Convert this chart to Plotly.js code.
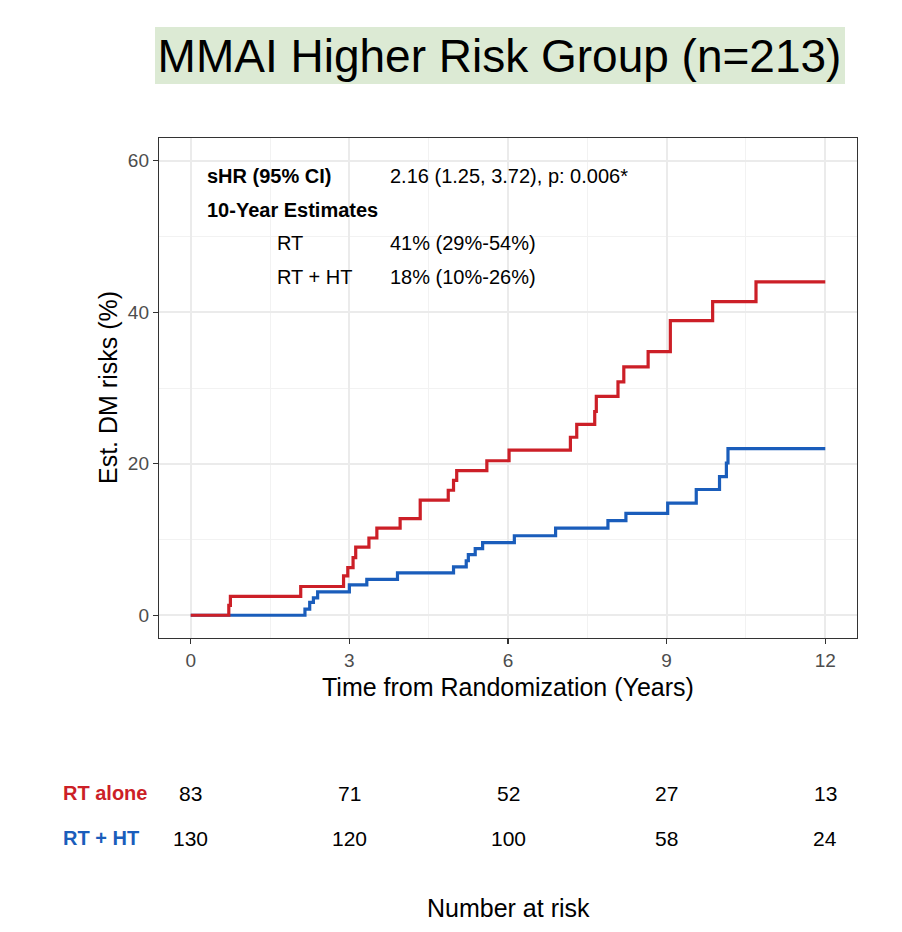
<!DOCTYPE html>
<html>
<head>
<meta charset="utf-8">
<script src="https://cdn.plot.ly/plotly-3.0.1.min.js"></script>
<style>html,body{margin:0;padding:0;background:#fff;}#chart{width:902px;height:932px;}</style>
</head>
<body>
<div id="chart"></div>
<script>
// ---- data ----
const rtTime = [0, 0.72, 0.75, 2.08, 2.89, 2.97, 3.07, 3.12, 3.37, 3.52, 3.96, 4.34, 4.87, 4.97, 5.03, 5.6, 6.02, 7.18, 7.3, 7.64, 7.67, 8.08, 8.19, 8.65, 9.07, 9.87, 10.69, 12.0];
const rtRisk = [0, 1.3, 2.5, 3.8, 5.2, 6.3, 7.6, 9.0, 10.2, 11.5, 12.75, 15.2, 16.5, 17.8, 19.1, 20.4, 21.8, 23.5, 25.2, 26.9, 28.9, 30.8, 32.8, 34.8, 38.9, 41.4, 44.0, 44.0];
const htTime = [0, 2.16, 2.25, 2.32, 2.4, 3.0, 3.33, 3.91, 4.97, 5.21, 5.25, 5.38, 5.52, 6.12, 6.9, 7.89, 8.23, 9.02, 9.56, 10.0, 10.13, 10.16, 12.0];
const htRisk = [0, 0.8, 1.7, 2.3, 3.1, 4.0, 4.75, 5.6, 6.4, 7.2, 8.0, 8.8, 9.6, 10.5, 11.5, 12.5, 13.45, 14.8, 16.6, 18.3, 20.1, 22.0, 22.0];

const riskTimes = [0, 3, 6, 9, 12];
const rtAtRisk = [83, 71, 52, 27, 13];
const htAtRisk = [130, 120, 100, 58, 24];

const groupLabels = ["RT alone", "RT + HT"];
const statLines = [
  ["sHR (95% CI)", "2.16 (1.25, 3.72), p: 0.006*"],
  ["10-Year Estimates", ""],
  ["RT", "41% (29%-54%)"],
  ["RT + HT", "18% (10%-26%)"]
];

const RED = "#CC1F27";
const BLUE = "#1A5DBB";
const FONT = "Liberation Sans, Arial, Helvetica, sans-serif";

// ---- layout helpers (pixel -> paper) ----
const L = 159, R = 45, T = 138, B = 294, W = 902, H = 932;
const pw = W - L - R, ph = H - T - B;
const px = v => (v - L) / pw;
const py = v => (H - B - v) / ph;

const traces = [
  {x: htTime, y: htRisk, type: "scatter", mode: "lines", line: {shape: "hv", color: BLUE, width: 3.2}, hoverinfo: "skip"},
  {x: rtTime, y: rtRisk, type: "scatter", mode: "lines", line: {shape: "hv", color: RED, width: 3.2}, hoverinfo: "skip"}
];

const ann = [];
// stats block
const rowY = [58.0, 53.5, 49.2, 44.7];
statLines.forEach((r, i) => {
  const bold = i < 2;
  const x0 = bold ? 0.27 : 1.6;
  ann.push({xref: "x", yref: "y", x: x0, y: rowY[i], xanchor: "left", yanchor: "middle", showarrow: false,
            text: bold ? "<b>" + r[0] + "</b>" : r[0], font: {family: FONT, size: 20, color: "#000"}});
  if (r[1]) ann.push({xref: "x", yref: "y", x: 3.74, y: rowY[i], xanchor: "left", yanchor: "middle", showarrow: false,
            text: r[1], font: {family: FONT, size: 20, color: "#000"}});
});
// axis titles
ann.push({xref: "paper", yref: "paper", x: 0.5, y: py(687), xanchor: "center", yanchor: "middle", showarrow: false,
          text: "Time from Randomization (Years)", font: {family: FONT, size: 25, color: "#000"}});
ann.push({xref: "paper", yref: "paper", x: px(108), y: 0.5, xanchor: "center", yanchor: "middle", showarrow: false, textangle: -90,
          text: "Est. DM risks (%)", font: {family: FONT, size: 25, color: "#000"}});
// risk table
const tableY = [py(793), py(838)];
const tableCols = [RED, BLUE];
[rtAtRisk, htAtRisk].forEach((vals, r) => {
  ann.push({xref: "paper", yref: "paper", x: px(61), y: tableY[r], xanchor: "left", yanchor: "middle", showarrow: false,
            text: "<b>" + groupLabels[r] + "</b>", font: {family: FONT, size: 20, color: tableCols[r]}});
  vals.forEach((v, j) => {
    ann.push({xref: "x", yref: "paper", x: riskTimes[j], y: tableY[r], xanchor: "center", yanchor: "middle", showarrow: false,
              text: String(v), font: {family: FONT, size: 21, color: "#000"}});
  });
});
ann.push({xref: "paper", yref: "paper", x: px(508.5), y: py(908), xanchor: "center", yanchor: "middle", showarrow: false,
          text: "Number at risk", font: {family: FONT, size: 25, color: "#000"}});

const layout = {
  width: W, height: H,
  margin: {l: L, r: R, t: T, b: B, pad: 0},
  paper_bgcolor: "#fff", plot_bgcolor: "#fff",
  showlegend: false,
  title: {text: "MMAI Higher Risk Group (n=213)", xref: "paper", yref: "container", x: px(499.5), y: 1 - 56 / H,
          xanchor: "center", yanchor: "middle", font: {family: FONT, size: 46, color: "#000"}},
  shapes: [{type: "rect", xref: "paper", yref: "paper", x0: px(155), x1: px(845), y0: py(84), y1: py(27),
            fillcolor: "#DCEAD4", line: {width: 0}, layer: "below"}],
  xaxis: {range: [-0.6, 12.6], tick0: 0, dtick: 3, ticks: "outside", ticklen: 5, tickcolor: "#333", tickwidth: 1.2,
          showgrid: true, gridcolor: "#EBEBEB", gridwidth: 2, zeroline: false,
          minor: {dtick: 1.5, tick0: 0, showgrid: true, gridcolor: "#F2F2F2", gridwidth: 1, ticks: ""},
          showline: true, mirror: true, linecolor: "#333", linewidth: 1.2,
          tickfont: {family: FONT, size: 19, color: "#4D4D4D"}, fixedrange: true},
  yaxis: {range: [-3, 63], tick0: 0, dtick: 20, ticks: "outside", ticklen: 5, tickcolor: "#333", tickwidth: 1.2,
          showgrid: true, gridcolor: "#EBEBEB", gridwidth: 2, zeroline: false,
          minor: {dtick: 10, tick0: 0, showgrid: true, gridcolor: "#F2F2F2", gridwidth: 1, ticks: ""},
          showline: true, mirror: true, linecolor: "#333", linewidth: 1.2,
          tickfont: {family: FONT, size: 19, color: "#4D4D4D"}, fixedrange: true},
  annotations: ann
};

Plotly.newPlot("chart", traces, layout, {displayModeBar: false, staticPlot: true});
</script>
</body>
</html>
